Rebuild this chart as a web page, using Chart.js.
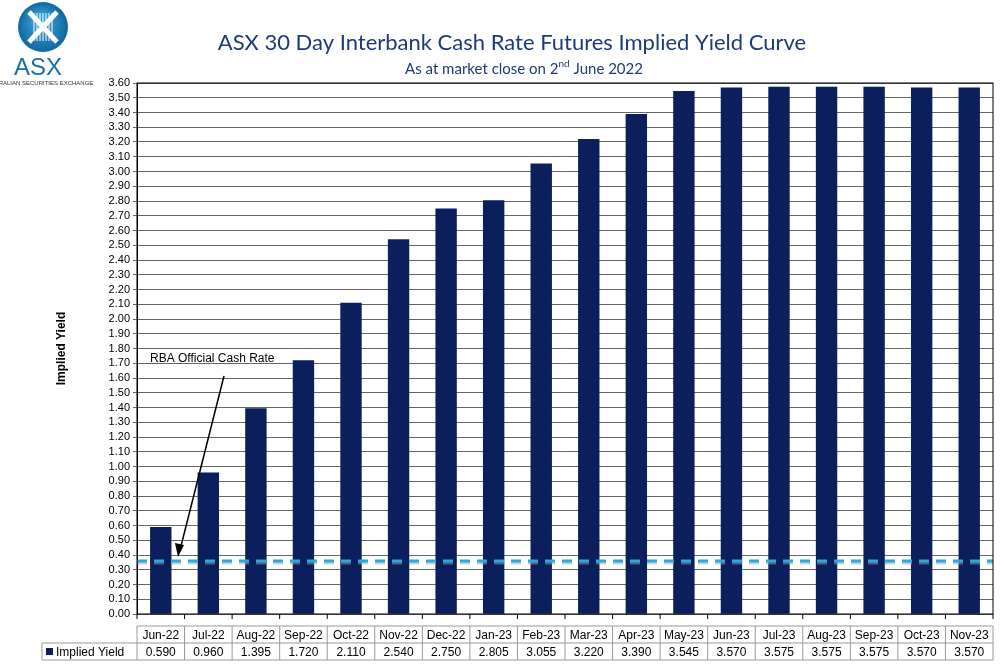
<!DOCTYPE html>
<html>
<head>
<meta charset="utf-8">
<script src="https://cdn.jsdelivr.net/npm/chart.js@4.4.0/dist/chart.umd.min.js"></script>
<style>
  html, body { margin: 0; padding: 0; background: #fff; }
  #wrap { width: 1004px; height: 664px; }
</style>
</head>
<body>
<div id="wrap"><canvas id="chart" width="1004" height="664"></canvas></div>
<script>
const months = ['Jun-22', 'Jul-22', 'Aug-22', 'Sep-22', 'Oct-22', 'Nov-22', 'Dec-22', 'Jan-23', 'Feb-23',
  'Mar-23', 'Apr-23', 'May-23', 'Jun-23', 'Jul-23', 'Aug-23', 'Sep-23', 'Oct-23', 'Nov-23'];
const impliedYield = [0.590, 0.960, 1.395, 1.720, 2.110, 2.540, 2.750, 2.805, 3.055,
  3.220, 3.390, 3.545, 3.570, 3.575, 3.575, 3.575, 3.570, 3.570];
const cashRate = 0.36;
const navy = '#0b1f5c';

// title, logo, cash rate line, annotation and data table
const extras = {
  id: 'extras',
  afterDatasetsDraw(chart) {
    const ctx = chart.ctx;
    const x = chart.scales.x, y = chart.scales.y, area = chart.chartArea;
    ctx.save();

    // logo
    const g = ctx.createRadialGradient(40, 20, 4, 43, 28, 28);
    g.addColorStop(0, '#3aa3d8');
    g.addColorStop(1, '#0a5f96');
    ctx.fillStyle = g;
    ctx.beginPath(); ctx.arc(43, 27, 25, 0, Math.PI * 2); ctx.fill();
    ctx.strokeStyle = '#fff'; ctx.lineWidth = 5;
    ctx.beginPath(); ctx.moveTo(29, 12); ctx.lineTo(57, 42); ctx.moveTo(57, 12); ctx.lineTo(29, 42); ctx.stroke();
    ctx.lineWidth = 1;
    for (let i = -3; i <= 3; i++) {
      ctx.beginPath(); ctx.moveTo(43 + i * 3, 13); ctx.lineTo(43 + i * 3, 41); ctx.stroke();
    }
    ctx.fillStyle = '#1a6fa5';
    ctx.font = '24px "Liberation Sans", Arial';
    ctx.textAlign = 'center'; ctx.textBaseline = 'alphabetic';
    ctx.fillText('ASX', 38, 75);
    ctx.font = '6px "Liberation Sans", Arial';
    ctx.fillStyle = '#333';
    ctx.fillText('AUSTRALIAN SECURITIES EXCHANGE', 38, 85);

    // title
    ctx.fillStyle = '#1f3a7a';
    ctx.font = '22px Lato, "Open Sans", sans-serif';
    ctx.fillText('ASX 30 Day Interbank Cash Rate Futures Implied Yield Curve', 512, 50);
    ctx.font = '15px Lato, "Open Sans", sans-serif';
    const p1 = 'As at market close on 2', p2 = 'nd', p3 = ' June 2022';
    const w1 = ctx.measureText(p1).width, w3 = ctx.measureText(p3).width;
    ctx.font = '10px Lato, "Open Sans", sans-serif';
    const w2 = ctx.measureText(p2).width;
    let sx = 524 - (w1 + w2 + w3) / 2;
    ctx.textAlign = 'left';
    ctx.font = '15px Lato, "Open Sans", sans-serif';
    ctx.fillText(p1, sx, 74); sx += w1;
    ctx.font = '10px Lato, "Open Sans", sans-serif';
    ctx.fillText(p2, sx, 67); sx += w2;
    ctx.font = '15px Lato, "Open Sans", sans-serif';
    ctx.fillText(p3, sx, 74);

    // cash rate dashed line
    const ly = y.getPixelForValue(cashRate);
    ctx.strokeStyle = 'rgba(160,160,160,0.5)'; ctx.lineWidth = 3; ctx.setLineDash([10, 7]);
    ctx.beginPath(); ctx.moveTo(area.left, ly + 2); ctx.lineTo(area.right, ly + 2); ctx.stroke();
    ctx.strokeStyle = '#2aa8e0';
    ctx.beginPath(); ctx.moveTo(area.left, ly); ctx.lineTo(area.right, ly); ctx.stroke();
    ctx.setLineDash([]);

    // annotation
    ctx.fillStyle = '#000';
    ctx.font = '12px "Liberation Sans", Arial';
    ctx.fillText('RBA Official Cash Rate', 150, 362);
    ctx.strokeStyle = '#000'; ctx.lineWidth = 1.5;
    ctx.beginPath(); ctx.moveTo(224, 376); ctx.lineTo(180, 550); ctx.stroke();
    ctx.beginPath(); ctx.moveTo(178, 557); ctx.lineTo(175, 543); ctx.lineTo(184, 545); ctx.closePath(); ctx.fill();

    // x tick marks
    ctx.strokeStyle = '#000'; ctx.lineWidth = 1;
    const step = (area.right - area.left) / months.length;
    for (let i = 0; i <= months.length; i++) {
      const tx = area.left + i * step;
      ctx.beginPath(); ctx.moveTo(tx, area.bottom); ctx.lineTo(tx, area.bottom + 5); ctx.stroke();
    }

    // data table
    const top = 626, mid = 643, bot = 660;
    ctx.strokeStyle = '#999';
    ctx.beginPath();
    ctx.moveTo(area.left, top); ctx.lineTo(area.right, top);
    ctx.moveTo(42, mid); ctx.lineTo(area.right, mid);
    ctx.moveTo(42, bot); ctx.lineTo(area.right, bot);
    ctx.moveTo(42, mid); ctx.lineTo(42, bot);
    for (let i = 0; i <= months.length; i++) {
      const tx = area.left + i * step;
      ctx.moveTo(tx, top); ctx.lineTo(tx, bot);
    }
    ctx.stroke();
    ctx.fillStyle = '#000';
    ctx.font = '12px "Liberation Sans", Arial';
    ctx.textAlign = 'center'; ctx.textBaseline = 'middle';
    months.forEach((m, i) => {
      const cx = x.getPixelForValue(i);
      ctx.fillText(m, cx, (top + mid) / 2 + 1);
      ctx.fillText(impliedYield[i].toFixed(3), cx, (mid + bot) / 2 + 1);
    });
    ctx.fillStyle = navy;
    ctx.fillRect(46, 648, 7, 7);
    ctx.fillStyle = '#000';
    ctx.textAlign = 'left';
    ctx.fillText('Implied Yield', 56, (mid + bot) / 2 + 1);

    // plot frame
    ctx.strokeStyle = '#000';
    ctx.strokeRect(area.left, area.top, area.right - area.left, area.bottom - area.top);
    ctx.restore();
  }
};

new Chart(document.getElementById('chart'), {
  type: 'bar',
  data: {
    labels: months,
    datasets: [{
      label: 'Implied Yield',
      data: impliedYield,
      backgroundColor: navy,
      barPercentage: 0.45,
      categoryPercentage: 1
    }]
  },
  options: {
    responsive: false,
    animation: false,
    layout: { padding: { top: 83, bottom: 50, right: 11, left: 50 } },
    plugins: { legend: { display: false }, tooltip: { enabled: false } },
    scales: {
      x: {
        ticks: { display: false },
        grid: { display: false },
        border: { display: false },
        afterFit(s) { s.height = 0; }
      },
      y: {
        min: 0, max: 3.6,
        ticks: { stepSize: 0.1, autoSkip: false, color: '#000', padding: 3,
          font: { family: '"Liberation Sans", Arial', size: 11 },
          callback: v => v.toFixed(2) },
        grid: { color: '#000', lineWidth: 0.6, tickLength: 4 },
        border: { color: '#000' },
        title: { display: true, text: 'Implied Yield', color: '#000',
          font: { family: '"Liberation Sans", Arial', size: 12, weight: 'bold' } },
        afterFit(s) { s.width = 87; }
      }
    }
  },
  plugins: [extras]
});
</script>
</body>
</html>
